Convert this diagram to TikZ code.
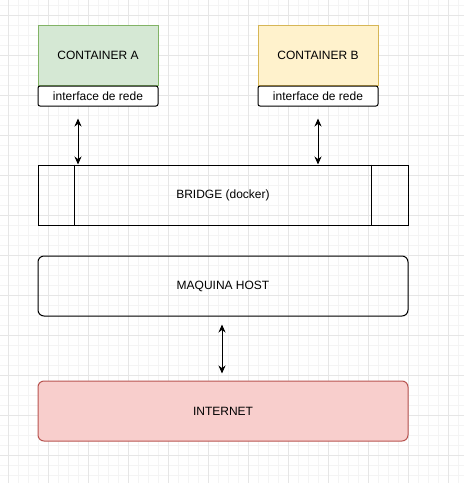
\documentclass[tikz,border=0pt]{standalone}
\usepackage{fontspec}
\setmainfont{Liberation Sans}
\usepackage{tikz}
\usetikzlibrary{positioning}
\usetikzlibrary{calc}
\usetikzlibrary{arrows.meta}
\definecolor{greenfill}{HTML}{D5E8D4}
\definecolor{greenline}{HTML}{82B366}
\definecolor{yellowfill}{HTML}{FFF2CC}
\definecolor{yellowline}{HTML}{D6B656}
\definecolor{redfill}{HTML}{F8CECC}
\definecolor{redline}{HTML}{B85450}
\definecolor{gridminor}{HTML}{F4F4F4}
\definecolor{gridmajor}{HTML}{E6E6E6}
\tikzstyle{container} = [draw, rectangle, line width=1pt, minimum height=60pt, minimum width=120pt, inner sep=0pt]
\tikzstyle{iface} = [draw, rectangle, rounded corners=2pt, line width=1pt, fill=white, minimum height=20pt, minimum width=120pt, inner sep=0pt]
\tikzstyle{wide} = [draw, rectangle, line width=1pt, minimum height=60pt, minimum width=370pt, inner sep=0pt]
\tikzstyle{link} = [line width=1pt, {Stealth[length=8pt,width=7pt]}-{Stealth[length=8pt,width=7pt]}]

\begin{document}
\begin{tikzpicture}[x=1pt,y=-1pt,auto,node distance=30pt,font=\fontsize{12pt}{14pt}\selectfont]
    \useasboundingbox (0,0) rectangle (464,483);
    \fill[white] (0,0) rectangle (464,483);
    % grid
    \foreach \x in {8,18,...,458} \draw[gridminor, line width=0.8pt] (\x,0) -- (\x,483);
    \foreach \y in {5,15,...,475} \draw[gridminor, line width=0.8pt] (0,\y) -- (464,\y);
    \foreach \x in {8,48,...,448} \draw[gridmajor, line width=0.8pt] (\x,0) -- (\x,483);
    \foreach \y in {15,55,...,455} \draw[gridmajor, line width=0.8pt] (0,\y) -- (464,\y);

    \node [container, fill=greenfill, draw=greenline] (contA) at (98,55) {CONTAINER A};
    \node [iface, below = 0pt of contA] (ifA) {interface de rede};
    \node [container, fill=yellowfill, draw=yellowline] (contB) at (318,55) {CONTAINER B};
    \node [iface, below = 0pt of contB] (ifB) {interface de rede};

    \node [wide] (bridge) at (223,195) {BRIDGE (docker)};
    \draw [line width=1pt] ([xshift=37pt]bridge.north west) -- ([xshift=37pt]bridge.south west);
    \draw [line width=1pt] ([xshift=-37pt]bridge.north east) -- ([xshift=-37pt]bridge.south east);

    \node [wide, rounded corners=6pt, below = 30pt of bridge] (host) {MAQUINA HOST};
    \node [wide, rounded corners=6pt, fill=redfill, draw=redline, below = 64pt of host] (internet) {INTERNET};

    \draw [link, shorten <=12pt] ([xshift=-20pt]ifA.south) -- ([xshift=-20pt]ifA.south |- bridge.north); % connections
    \draw [link, shorten <=12pt] (ifB.south) -- (ifB.south |- bridge.north);
    \draw [link, shorten <=8pt, shorten >=7pt] ([xshift=-1pt]host.south) -- ([xshift=-1pt]host.south |- internet.north);
\end{tikzpicture}
\end{document}
